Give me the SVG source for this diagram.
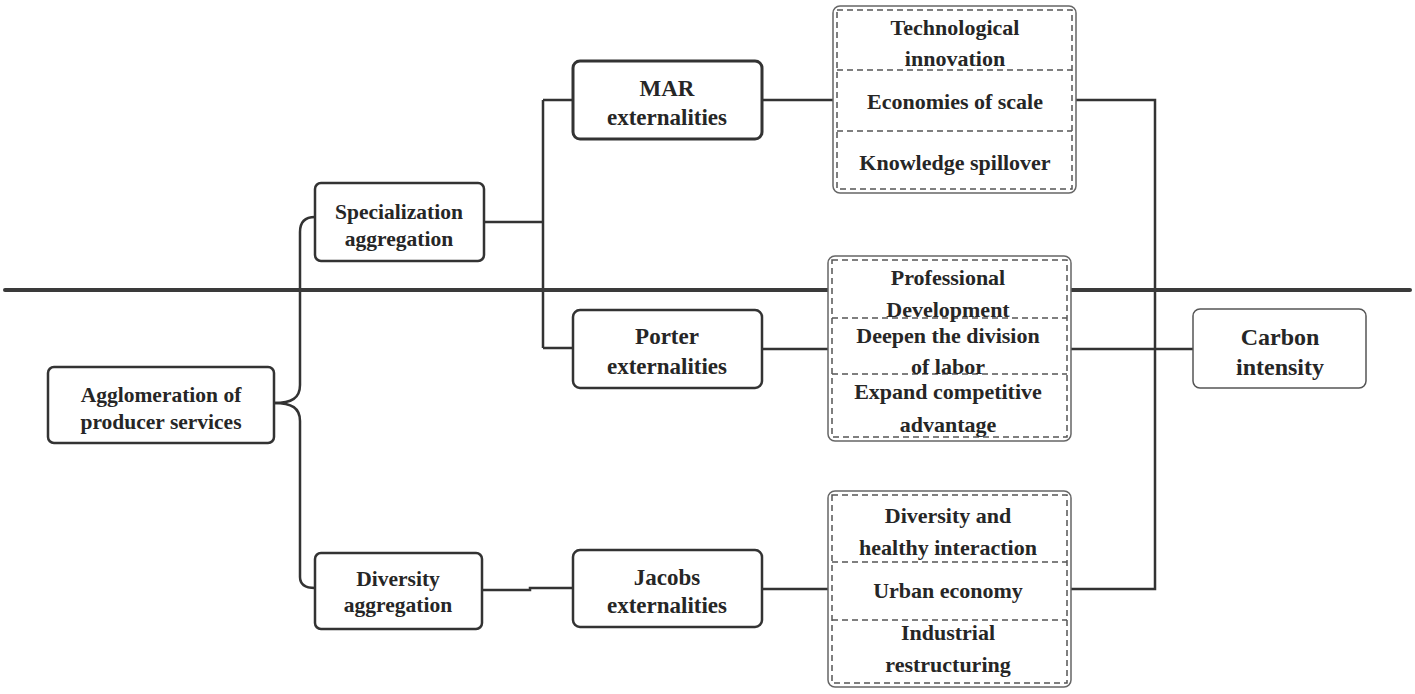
<svg xmlns="http://www.w3.org/2000/svg" width="1415" height="694" viewBox="0 0 1415 694">
<style>
text{font-family:"Liberation Serif","Times New Roman",serif;font-weight:bold;fill:#262626;text-anchor:middle}
.node{fill:#fff;stroke:#333;stroke-width:2.5}
.thick{stroke-width:3}
.thin{stroke:#555;stroke-width:1.5}
.outer{fill:#fff;stroke:#666;stroke-width:1.5}
.dash{fill:none;stroke:#555;stroke-width:1.5;stroke-dasharray:6 4}
.conn{fill:none;stroke:#333;stroke-width:2.5}
.s21{font-size:21.5px}.s22{font-size:22px}.s23{font-size:23px}.s24{font-size:24px}
</style>
<rect width="1415" height="694" fill="#fff"/>
<g id="connectors">
<path class="conn" d="M274,403 C292,403 300,398 300,385 L300,232 C300,222 305,217 315,217"/>
<path class="conn" d="M274,403 C292,403 300,408 300,421 L300,577 C300,584 305,588 315,588"/>
<path class="conn" d="M484,222 H543 M543,100 V348 M543,100 H573 M543,348 H573"/>
<path class="conn" d="M482,590 H530 V588 H573"/>
<path class="conn" d="M762,100 H833 M762,349 H828 M762,589 H828"/>
<path class="conn" d="M1076,100 H1155 V589 H1071 M1071,349 H1193"/>
<line x1="5" y1="290" x2="1410" y2="290" stroke="#3a3a3a" stroke-width="4" stroke-linecap="round"/>
</g>
<g id="agglomeration">
<rect class="node" x="48" y="367" width="226" height="76" rx="6"/>
<text class="s21" x="161" y="402">Agglomeration of</text>
<text class="s21" x="161" y="429">producer services</text>
</g>
<g id="specialization">
<rect class="node" x="315" y="183" width="169" height="78" rx="6"/>
<text class="s21" x="399" y="219">Specialization</text>
<text class="s21" x="399" y="246">aggregation</text>
</g>
<g id="diversity">
<rect class="node" x="315" y="553" width="167" height="76" rx="6"/>
<text class="s21" x="398" y="586">Diversity</text>
<text class="s21" x="398" y="612">aggregation</text>
</g>
<g id="mar">
<rect class="node thick" x="573" y="61" width="189" height="78" rx="7"/>
<text class="s23" x="667" y="96">MAR</text>
<text class="s23" x="667" y="125">externalities</text>
</g>
<g id="porter">
<rect class="node" x="573" y="310" width="189" height="78" rx="7"/>
<text class="s23" x="667" y="344">Porter</text>
<text class="s23" x="667" y="374">externalities</text>
</g>
<g id="jacobs">
<rect class="node" x="573" y="550" width="189" height="77" rx="7"/>
<text class="s23" x="667" y="585">Jacobs</text>
<text class="s23" x="667" y="613">externalities</text>
</g>
<g id="mar-mechanisms">
<rect class="outer" x="833" y="6" width="243" height="187" rx="7"/>
<rect class="dash" x="837" y="10" width="235" height="179"/>
<line class="dash" x1="837" y1="70" x2="1072" y2="70"/>
<line class="dash" x1="837" y1="131" x2="1072" y2="131"/>
<text class="s22" x="955" y="35">Technological</text>
<text class="s22" x="955" y="66">innovation</text>
<text class="s22" x="955" y="109">Economies of scale</text>
<text class="s22" x="955" y="170">Knowledge spillover</text>
</g>
<g id="porter-mechanisms">
<rect class="outer" x="828" y="256" width="243" height="185" rx="7"/>
<rect class="dash" x="832" y="260" width="235" height="177"/>
<line class="dash" x1="832" y1="318" x2="1067" y2="318"/>
<line class="dash" x1="832" y1="374" x2="1067" y2="374"/>
<text class="s22" x="948" y="285">Professional</text>
<text class="s22" x="948" y="317">Development</text>
<text class="s22" x="948" y="343">Deepen the division</text>
<text class="s22" x="948" y="374">of labor</text>
<text class="s22" x="948" y="399">Expand competitive</text>
<text class="s22" x="948" y="432">advantage</text>
</g>
<g id="jacobs-mechanisms">
<rect class="outer" x="828" y="491" width="243" height="196" rx="7"/>
<rect class="dash" x="832" y="495" width="235" height="188"/>
<line class="dash" x1="832" y1="562" x2="1067" y2="562"/>
<line class="dash" x1="832" y1="620" x2="1067" y2="620"/>
<text class="s22" x="948" y="523">Diversity and</text>
<text class="s22" x="948" y="555">healthy interaction</text>
<text class="s22" x="948" y="598">Urban economy</text>
<text class="s22" x="948" y="640">Industrial</text>
<text class="s22" x="948" y="672">restructuring</text>
</g>
<g id="carbon">
<rect class="node thin" x="1193" y="309" width="173" height="79" rx="7"/>
<text class="s24" x="1280" y="345">Carbon</text>
<text class="s24" x="1280" y="375">intensity</text>
</g>
</svg>
